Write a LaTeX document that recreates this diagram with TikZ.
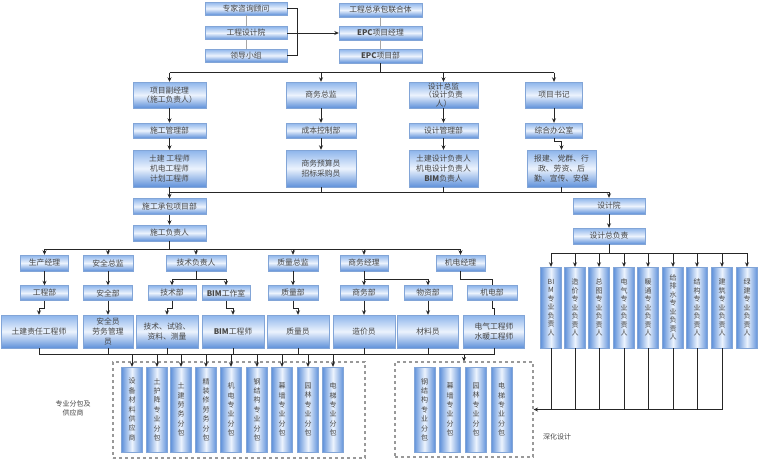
\documentclass[tikz,border=0pt]{standalone}
\usepackage{fontspec}
\usepackage{xcolor}
\usepackage{tikz}
\usetikzlibrary{arrows.meta, calc}
\newfontfamily\cjk{Noto Sans CJK SC}
\definecolor{boxtop}{RGB}{140,180,235}
\definecolor{boxbot}{RGB}{95,145,218}
\definecolor{boxmid}{RGB}{236,243,253}
\definecolor{boxline}{RGB}{130,165,215}
\definecolor{txt}{RGB}{70,70,70}

\begin{document}
\begin{tikzpicture}[
  x=1pt, y=-1pt,
  box/.style={draw=boxline, top color=boxtop, bottom color=boxbot, middle color=boxmid,
              inner sep=1pt, align=center, text=txt,
              font=\cjk\fontsize{7.8}{9.6}\selectfont},
  subbox/.style={draw=boxline, left color=boxbot, right color=boxbot, middle color=boxmid,
                 minimum width=21, minimum height=85, inner sep=0pt, align=center,
                 text=txt, font=\cjk\fontsize{7}{9.4}\selectfont},
  desbox/.style={subbox, minimum height=81, font=\cjk\fontsize{7}{8.5}\selectfont},
  dashbox/.style={draw=gray!80, dashed, line width=1.1pt},
  lbl/.style={align=center, text=txt, font=\cjk\fontsize{7}{9}\selectfont},
  arr/.style={-{Stealth[length=4.5pt,width=4pt]}, line width=0.8pt, black!85},
  ln/.style={line width=0.8pt, black!85},
  gln/.style={line width=0.8pt, gray!70}
]
  \useasboundingbox (0,0) rectangle (760,461);
  \fill[white] (0,0) rectangle (760,461);

  % top
  \node[box, minimum width=82, minimum height=13] (zj)   at (246,8.5)  {专家咨询顾问};
  \node[box, minimum width=82, minimum height=13] (sjy)  at (246,33)   {工程设计院};
  \node[box, minimum width=82, minimum height=13] (ld)   at (246,55.5) {领导小组};
  \node[box, minimum width=83, minimum height=14] (lht)  at (380.5,10) {工程总承包联合体};
  \node[box, minimum width=83, minimum height=14] (epcm) at (380.5,33) {\textbf{EPC}项目经理};
  \node[box, minimum width=83, minimum height=14] (epcb) at (380.5,56) {\textbf{EPC}项目部};

  % second level
  \node[box, minimum width=73, minimum height=26] (fjl)  at (169.5,95) {项目副经理\\（施工负责人）};
  \node[box, minimum width=70, minimum height=26] (swzj) at (321,95)   {商务总监};
  \node[box, minimum width=69, minimum height=26, font=\cjk\fontsize{7.8}{8.2}\selectfont]
        (sjzj) at (443.5,95) {设计总监\\（设计负责\\人）};
  \node[box, minimum width=57, minimum height=26] (sj)   at (554,95)   {项目书记};

  \node[box, minimum width=73, minimum height=15] (sggl) at (169.5,130.5) {施工管理部};
  \node[box, minimum width=70, minimum height=15] (cbkz) at (321,130.5)   {成本控制部};
  \node[box, minimum width=69, minimum height=15] (sjgl) at (443.5,130.5) {设计管理部};
  \node[box, minimum width=57, minimum height=15] (zhbg) at (554,130.5)   {综合办公室};

  \node[box, minimum width=73, minimum height=37] (sgeng) at (169.5,168.5) {土建 工程师\\机电工程师\\计划工程师};
  \node[box, minimum width=70, minimum height=37] (swys)  at (321,168.5)   {商务预算员\\招标采购员};
  \node[box, minimum width=69, minimum height=37] (sjfz)  at (443.5,168.5) {土建设计负责人\\机电设计负责人\\\textbf{BIM}负责人};
  \node[box, minimum width=69, minimum height=37] (bj)    at (561.5,168.5) {报建、党群、行\\政、劳资、后\\勤、宣传、安保};

  % construction side
  \node[box, minimum width=73, minimum height=16] (sgcb)   at (169.5,206.5) {施工承包项目部};
  \node[box, minimum width=73, minimum height=16] (sgfz)   at (169.5,233)   {施工负责人};

  \node[box, minimum width=48, minimum height=16] (scjl) at (44.5,263) {生产经理};
  \node[box, minimum width=50, minimum height=16] (aqzj) at (108,263)  {安全总监};
  \node[box, minimum width=60, minimum height=16] (jsfz) at (196,263)  {技术负责人};
  \node[box, minimum width=50, minimum height=16] (zlzj) at (293,263)  {质量总监};
  \node[box, minimum width=48, minimum height=16] (swjl) at (364,263)  {商务经理};
  \node[box, minimum width=49, minimum height=16] (jdjl) at (460.5,263) {机电经理};

  \node[box, minimum width=48, minimum height=15] (gcb)    at (44.5,293) {工程部};
  \node[box, minimum width=49, minimum height=15] (aqb)    at (108,293)  {安全部};
  \node[box, minimum width=48, minimum height=15] (jsb)    at (172,293)  {技术部};
  \node[box, minimum width=48, minimum height=15] (bimgzs) at (226,293)  {\textbf{BIM}工作室};
  \node[box, minimum width=50, minimum height=15] (zlb)    at (293,293)  {质量部};
  \node[box, minimum width=48, minimum height=15] (swb)    at (364,293)  {商务部};
  \node[box, minimum width=48, minimum height=15] (wzb)    at (428,293)  {物资部};
  \node[box, minimum width=50, minimum height=15] (jdb)    at (492,293)  {机电部};

  \node[box, minimum width=76, minimum height=33] (tjzr)   at (39,331.5)    {土建责任工程师};
  \node[box, minimum width=50, minimum height=33] (aqy)    at (108,331.5)   {安全员\\劳务管理\\员};
  \node[box, minimum width=62, minimum height=33] (jssy)   at (167,331.5)   {技术、试验、\\资料、测量};
  \node[box, minimum width=62, minimum height=33] (bimgcs) at (233,331.5)   {\textbf{BIM}工程师};
  \node[box, minimum width=62, minimum height=33] (zly)    at (298,331.5)   {质量员};
  \node[box, minimum width=62, minimum height=33] (zjy)    at (364,331.5)   {造价员};
  \node[box, minimum width=61, minimum height=33] (cly)    at (428,331.5)   {材料员};
  \node[box, minimum width=61, minimum height=33] (dqgcs)  at (494,331.5)   {电气工程师\\水暖工程师};

  % subcontract boxes
  \node[dashbox, minimum width=252, minimum height=96] (fb) at (239,410) {};
  \node[dashbox, minimum width=138, minimum height=95] (sh) at (464,409.5) {};
  \node[subbox] (p1) at (132,409.5) {设\\备\\材\\料\\供\\应\\商};
  \node[subbox] (p2) at (157,409.5) {土\\护\\降\\专\\业\\分\\包};
  \node[subbox] (p3) at (181,409.5) {土\\建\\劳\\务\\分\\包};
  \node[subbox] (p4) at (206,409.5) {精\\装\\修\\劳\\务\\分\\包};
  \node[subbox] (p5) at (231,409.5) {机\\电\\专\\业\\分\\包};
  \node[subbox] (p6) at (257,409.5) {钢\\结\\构\\专\\业\\分\\包};
  \node[subbox] (p7) at (282,409.5) {幕\\墙\\专\\业\\分\\包};
  \node[subbox] (p8) at (308,409.5) {园\\林\\专\\业\\分\\包};
  \node[subbox] (p9) at (333,409.5) {电\\梯\\专\\业\\分\\包};
  \node[subbox] (q1) at (424.5,409.5) {钢\\结\\构\\专\\业\\分\\包};
  \node[subbox] (q2) at (450,409.5)   {幕\\墙\\专\\业\\分\\包};
  \node[subbox] (q3) at (476,409.5)   {园\\林\\专\\业\\分\\包};
  \node[subbox] (q4) at (501.5,409.5) {电\\梯\\专\\业\\分\\包};
  \node[lbl] (fbl) at (73,408)  {专业分包及\\供应商};
  \node[lbl] (shl) at (557,437) {深化设计};

  % design side
  \node[box, minimum width=72, minimum height=16] (sjyuan) at (609,206) {设计院};
  \node[box, minimum width=72, minimum height=16] (sjzfz)  at (609,236) {设计总负责};
  \node[desbox] (d1) at (551,307.5) {BI\\M\\专\\业\\负\\责\\人};
  \node[desbox] (d2) at (575,307.5) {造\\价\\专\\业\\负\\责\\人};
  \node[desbox] (d3) at (599,307.5) {总\\图\\专\\业\\负\\责\\人};
  \node[desbox] (d4) at (624,307.5) {电\\气\\专\\业\\负\\责\\人};
  \node[desbox] (d5) at (648,307.5) {暖\\通\\专\\业\\负\\责\\人};
  \node[desbox] (d6) at (673,307.5) {给\\排\\水\\专\\业\\负\\责\\人};
  \node[desbox] (d7) at (697,307.5) {结\\构\\专\\业\\负\\责\\人};
  \node[desbox] (d8) at (722,307.5) {建\\筑\\专\\业\\负\\责\\人};
  \node[desbox] (d9) at (747,307.5) {绿\\建\\专\\业\\负\\责\\人};

  % top connectors
  \draw[gln] (zj) -- (sjy);
  \draw[gln] (sjy) -- (ld);
  \draw[ln]  (zj.east) -- ++(10,0) |- (ld.east);
  \draw[arr] (sjy.east) -- (epcm.west);
  \draw[gln] (lht) -- (epcm);
  \draw[gln] (epcm) -- (epcb);

  \coordinate (b1) at (0,72.5);
  \draw[ln]  (epcb.south) -- (b1 -| epcb);
  \draw[ln]  (b1 -| fjl) -- (b1 -| sj);
  \draw[arr] (b1 -| fjl) -- (fjl.north);
  \draw[arr] (b1 -| swzj) -- (swzj.north);
  \draw[arr] (b1 -| sjzj) -- (sjzj.north);
  \draw[arr] (b1 -| sj) -- (sj.north);
  \draw[arr] (fjl) -- (sggl);
  \draw[arr] (sggl) -- (sgeng);
  \draw[arr] (swzj) -- (cbkz);
  \draw[arr] (cbkz) -- (swys);
  \draw[arr] (sjzj) -- (sjgl);
  \draw[arr] (sjgl) -- (sjfz);
  \draw[arr] (sj) -- (zhbg);
  \draw[arr] (zhbg.south) -- ++(0,3) -| (bj.north);

  \coordinate (b2) at (0,192);
  \draw[ln]  (b2 -| sgeng) -- (b2 -| sjyuan);
  \draw[ln]  (swys.south) -- (b2 -| swys);
  \draw[ln]  (sjfz.south) -- (b2 -| sjfz);
  \draw[ln]  (bj.south) -- (b2 -| bj);
  \draw[arr] (sgeng) -- (sgcb);
  \draw[arr] (b2 -| sjyuan) -- (sjyuan.north);
  \draw[arr] (sgcb) -- (sgfz);
  \draw[arr] (sjyuan) -- (sjzfz);

  % construction connectors
  \coordinate (b3) at (0,249);
  \draw[ln]  (sgfz.south) -- (b3 -| sgfz);
  \draw[ln]  (b3 -| scjl) -- (b3 -| jdjl);
  \draw[arr] (b3 -| scjl) -- (scjl.north);
  \draw[arr] (b3 -| aqzj) -- (aqzj.north);
  \draw[arr] (b3 -| jsfz) -- (jsfz.north);
  \draw[arr] (b3 -| zlzj) -- (zlzj.north);
  \draw[arr] (b3 -| swjl) -- (swjl.north);
  \draw[arr] (b3 -| jdjl) -- (jdjl.north);

  \coordinate (b3a) at (0,279);
  \draw[arr] (scjl) -- (gcb);
  \draw[arr] (aqzj) -- (aqb);
  \draw[arr] (jsfz.south) |- (b3a -| jsb) -- (jsb.north);
  \draw[arr] (jsfz.south) |- (b3a -| bimgzs) -- (bimgzs.north);
  \draw[arr] (zlzj) -- (zlb);
  \draw[arr] (swjl) -- (swb);
  \draw[arr] (swjl.south) |- (b3a -| wzb) -- (wzb.north);
  \draw[ln]  (jdjl.south) |- (b3a -| jdb) -- (jdb.north);

  \coordinate (b3b) at (0,308);
  \draw[arr] (gcb.south) |- (b3b -| tjzr) -- (tjzr.north);
  \draw[arr] (aqb) -- (aqy);
  \draw[arr] (jsb.south) |- (b3b -| jssy) -- (jssy.north);
  \draw[arr] (bimgzs.south) |- (b3b -| bimgcs) -- (bimgcs.north);
  \draw[arr] (zlb.south) |- (b3b -| zly) -- (zly.north);
  \draw[arr] (swb) -- (zjy);
  \draw[arr] (wzb) -- (cly);
  \draw[ln]  (jdb.south) |- (b3b -| dqgcs) -- (dqgcs.north);

  \coordinate (b4) at (0,354);
  \draw[ln]  (tjzr.south) |- (b4 -| dqgcs) -- (dqgcs.south);
  \draw[ln]  (aqy.south) -- (b4 -| aqy);
  \draw[ln]  (jssy.south) -- (b4 -| jssy);
  \draw[ln]  (bimgcs.south) -- (b4 -| bimgcs);
  \draw[ln]  (zly.south) -- (b4 -| zly);
  \draw[ln]  (zjy.south) -- (b4 -| zjy);
  \draw[ln]  (cly.south) -- (b4 -| cly);
  \draw[arr] (b4 -| p1) -- (p1.north);
  \draw[arr] (b4 -| p2) -- (p2.north);
  \draw[arr] (b4 -| p3) -- (p3.north);
  \draw[arr] (b4 -| p4) -- (p4.north);
  \draw[arr] (b4 -| p5) -- (p5.north);
  \draw[arr] (b4 -| p6) -- (p6.north);
  \draw[arr] (b4 -| p7) -- (p7.north);
  \draw[arr] (b4 -| p8) -- (p8.north);
  \draw[arr] (b4 -| p9) -- (p9.north);
  \draw[arr] (b4 -| sh) -- (sh.north);

  % design connectors
  \coordinate (b6) at (0,253);
  \draw[ln]  (sjzfz.south) -- (b6 -| sjzfz);
  \draw[ln]  (b6 -| d1) -- (b6 -| d9);
  \draw[arr] (b6 -| d1) -- (d1.north);
  \draw[arr] (b6 -| d2) -- (d2.north);
  \draw[arr] (b6 -| d3) -- (d3.north);
  \draw[arr] (b6 -| d4) -- (d4.north);
  \draw[arr] (b6 -| d5) -- (d5.north);
  \draw[arr] (b6 -| d6) -- (d6.north);
  \draw[arr] (b6 -| d7) -- (d7.north);
  \draw[arr] (b6 -| d8) -- (d8.north);
  \draw[arr] (b6 -| d9) -- (d9.north);
  \draw[arr] (d8.south) |- (sh.east);
  \draw[ln]  (d1.south) -- (d1.south |- sh.east);
  \draw[ln]  (d2.south) -- (d2.south |- sh.east);
  \draw[ln]  (d3.south) -- (d3.south |- sh.east);
  \draw[ln]  (d4.south) -- (d4.south |- sh.east);
  \draw[ln]  (d5.south) -- (d5.south |- sh.east);
  \draw[ln]  (d6.south) -- (d6.south |- sh.east);
  \draw[ln]  (d7.south) -- (d7.south |- sh.east);
\end{tikzpicture}
\end{document}
